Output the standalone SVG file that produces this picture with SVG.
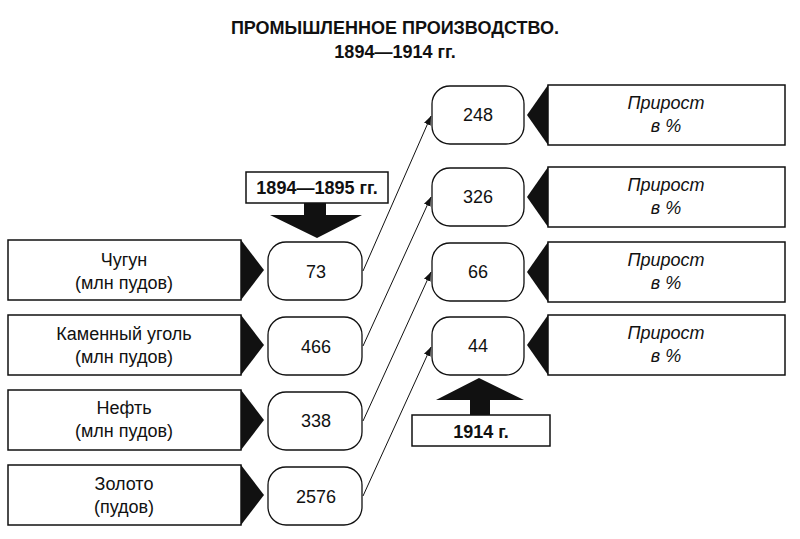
<svg xmlns="http://www.w3.org/2000/svg" width="800" height="539" viewBox="0 0 800 539">
<style>
text{font-family:"Liberation Sans",Arial,sans-serif;fill:#111;text-anchor:middle}
.b{fill:#fff;stroke:#111;stroke-width:1.5}
.v{fill:#fff;stroke:#111;stroke-width:1.3}
.t{font-size:18px}
.i{font-size:18px;font-style:italic}
.h{font-size:18px;font-weight:bold}
.c{stroke:#111;stroke-width:1;fill:none;marker-end:url(#a)}
</style>
<defs><marker id="a" viewBox="0 0 10 10" refX="10" refY="5" markerWidth="9" markerHeight="9" orient="auto" markerUnits="userSpaceOnUse"><path d="M0,1 L10,5 L0,9 z" fill="#111"/></marker></defs>
<rect width="800" height="539" fill="#fff"/>
<text x="395" y="34" class="h">ПРОМЫШЛЕННОЕ ПРОИЗВОДСТВО.</text>
<text x="395" y="58" class="h">1894—1914 гг.</text>
<g id="top-label"><rect class="b" x="246" y="172" width="142" height="31"/><text x="317" y="194" class="h">1894—1895 гг.</text><path d="M304,203 H326 V215 H362 L317,238 L270,215 H304 Z" fill="#111"/></g>
<g id="bottom-label"><rect class="b" x="412" y="415" width="138" height="31"/><text x="481" y="438" class="h">1914 г.</text><path d="M470,415 V400 H436 L479,378 L524,400 H490 V415 Z" fill="#111"/></g>
<g id="n1"><rect class="b" x="8" y="240" width="233" height="60"/><text x="124" y="266" class="t">Чугун</text><text x="124" y="289" class="t">(млн пудов)</text><path d="M241,240 L264,270 L241,300 Z" fill="#111"/><rect class="v" x="268" y="242" width="94" height="58" rx="18"/><text x="316" y="278" class="t">73</text></g>
<g id="n2"><rect class="b" x="8" y="315" width="233" height="60"/><text x="124" y="340" class="t">Каменный уголь</text><text x="124" y="363" class="t">(млн пудов)</text><path d="M241,315 L264,345 L241,375 Z" fill="#111"/><rect class="v" x="268" y="317" width="94" height="58" rx="18"/><text x="316" y="353" class="t">466</text></g>
<g id="n3"><rect class="b" x="8" y="390" width="233" height="60"/><text x="124" y="414" class="t">Нефть</text><text x="124" y="437" class="t">(млн пудов)</text><path d="M241,390 L264,420 L241,450 Z" fill="#111"/><rect class="v" x="268" y="392" width="94" height="58" rx="18"/><text x="316" y="427" class="t">338</text></g>
<g id="n4"><rect class="b" x="8" y="465" width="233" height="60"/><text x="124" y="490" class="t">Золото</text><text x="124" y="513" class="t">(пудов)</text><path d="M241,465 L264,495 L241,525 Z" fill="#111"/><rect class="v" x="268" y="467" width="94" height="58" rx="18"/><text x="316" y="503" class="t">2576</text></g>
<g id="r1"><rect class="v" x="432" y="86" width="92" height="58" rx="18"/><text x="478" y="121" class="t">248</text><path d="M548,85 L527,115 L548,145 Z" fill="#111"/><rect class="b" x="548" y="85" width="237" height="60"/><text x="666" y="109" class="i">Прирост</text><text x="666" y="132" class="i">в %</text></g>
<g id="r2"><rect class="v" x="432" y="168" width="92" height="58" rx="18"/><text x="478" y="203" class="t">326</text><path d="M548,167 L527,197 L548,227 Z" fill="#111"/><rect class="b" x="548" y="167" width="237" height="60"/><text x="666" y="191" class="i">Прирост</text><text x="666" y="214" class="i">в %</text></g>
<g id="r3"><rect class="v" x="432" y="243" width="92" height="58" rx="18"/><text x="478" y="278" class="t">66</text><path d="M548,242 L527,272 L548,302 Z" fill="#111"/><rect class="b" x="548" y="242" width="237" height="60"/><text x="666" y="266" class="i">Прирост</text><text x="666" y="289" class="i">в %</text></g>
<g id="r4"><rect class="v" x="432" y="317" width="92" height="58" rx="18"/><text x="478" y="352" class="t">44</text><path d="M548,315 L527,345 L548,375 Z" fill="#111"/><rect class="b" x="548" y="315" width="237" height="60"/><text x="666" y="339" class="i">Прирост</text><text x="666" y="362" class="i">в %</text></g>
<g id="connectors">
<line class="c" x1="363" y1="271" x2="431" y2="116"/>
<line class="c" x1="363" y1="346" x2="431" y2="197"/>
<line class="c" x1="363" y1="421" x2="431" y2="272"/>
<line class="c" x1="363" y1="496" x2="431" y2="347"/>
</g>
</svg>
